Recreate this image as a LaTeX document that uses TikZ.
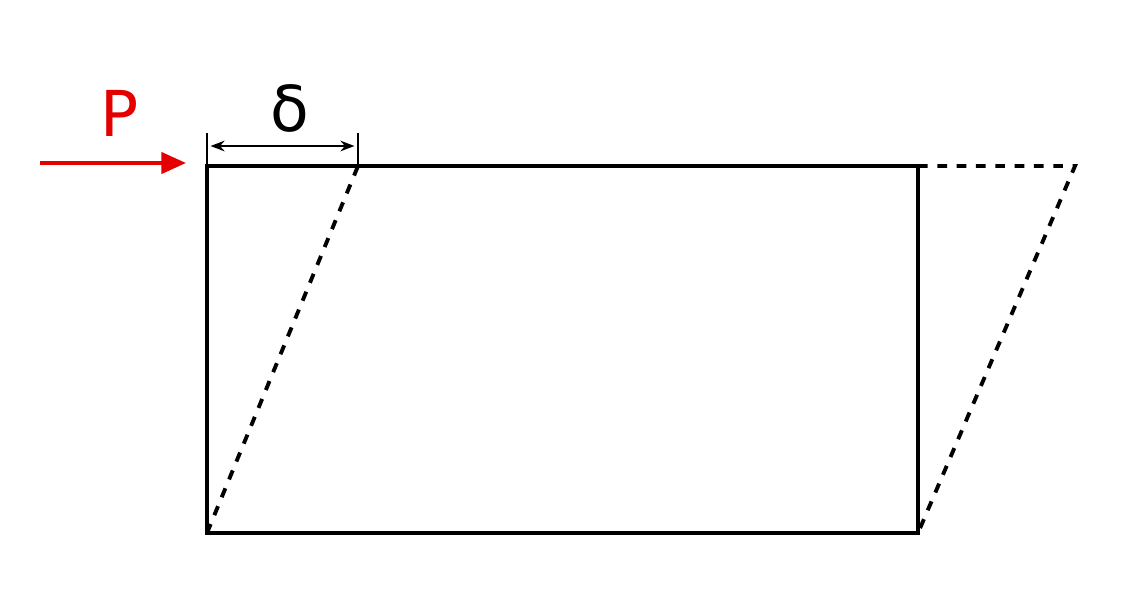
\documentclass[tikz,border=0pt]{standalone}
\usepackage{fontspec}
\setmainfont{DejaVu Sans}
\usepackage{tikz}
\usetikzlibrary{arrows.meta}

\begin{document}
\begin{tikzpicture}[x=0.02cm, y=-0.02cm,
	edge/.style = {line width = 2.2pt},
	shear/.style = {line width = 2.2pt, dash pattern = on 5.5pt off 5.5pt},
	lbl/.style = {inner sep = 0pt, font = \fontsize{36}{40}\selectfont}]
	\useasboundingbox (0,0) rectangle (1136,595);
	\coordinate (A) at (207,533);
	\coordinate (B) at (918,533);
	\coordinate (C) at (918,166);
	\coordinate (D) at (207,166);
	\coordinate (E) at (358,166);
	\coordinate (F) at (1075,166);
	\coordinate (G) at (207,133);
	\coordinate (H) at (358,133);
	\coordinate (S) at (40,163);
	\coordinate (T) at (186,163);
	\draw[edge] (A) -- (B) -- (C) -- (D) -- cycle;
	\draw[shear] (A) -- (E);
	\draw[shear] (C) -- (F) -- (B);
	\draw[line width = 1.5pt] (D) -- (G);
	\draw[line width = 1.5pt] (E) -- (H);
	\draw[line width = 1.2pt, {Stealth[length=8pt, width=6pt]}-{Stealth[length=8pt, width=6pt]}] ([xshift=2pt]207,146) coordinate (I) -- ([xshift=-2pt]358,146) coordinate (J);
	\draw[red!90!black, line width = 2.2pt, -{Triangle[length=14pt, width=12pt]}] (S) -- (T);
	\node[lbl, red!90!black] (P) at (120,113) {P};
	\node[lbl] (d) at (290,108) {δ};
\end{tikzpicture}
\end{document}
